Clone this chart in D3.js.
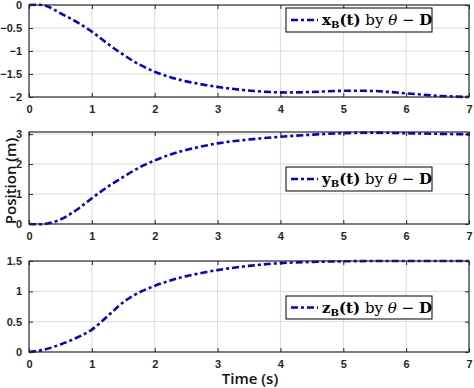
<!DOCTYPE html>
<html>
<head>
<meta charset="utf-8">
<script src="https://cdn.jsdelivr.net/npm/d3@7"></script>
<style>
  body { margin: 0; background: #fff; }
  .tick text { font-family: "Liberation Sans", Arial, sans-serif; font-weight: bold; font-size: 11px; fill: #262626; }
  .lbl { font-family: "Open Sans", sans-serif; font-weight: 600; fill: #111; }
  .leg { font-family: "DejaVu Serif", "Liberation Serif", serif; font-size: 15px; fill: #000; }
</style>
</head>
<body>
<div id="chart"></div>
<script>
// time samples (s)
const time = [0, 0.25, 0.5, 0.75, 1, 1.25, 1.5, 1.75, 2, 2.25, 2.5, 3, 3.5, 4, 4.5, 5, 5.5, 6, 6.5, 7];
const xB = [0, -0.01, -0.18, -0.36, -0.58, -0.84, -1.08, -1.29, -1.45, -1.57, -1.66, -1.78, -1.86, -1.9, -1.89, -1.865, -1.87, -1.92, -1.975, -2.0];
const yB = [0, 0, 0.15, 0.46, 0.86, 1.24, 1.57, 1.88, 2.12, 2.32, 2.47, 2.69, 2.82, 2.91, 2.98, 3.03, 3.05, 3.03, 3.01, 2.99];
const zB = [0, 0.04, 0.125, 0.23, 0.37, 0.59, 0.82, 0.98, 1.09, 1.18, 1.25, 1.35, 1.42, 1.465, 1.485, 1.495, 1.5, 1.5, 1.5, 1.5];

const xTicks = [0, 1, 2, 3, 4, 5, 6, 7];
const yTicks1 = [-2, -1.5, -1, -0.5, 0];
const yTicks2 = [0, 1, 2, 3];
const yTicks3 = [0, 0.5, 1, 1.5];
const legendNames = ["x", "y", "z"];

const width = 474, height = 388;
const left = 29, right = 469;
const blue = "#0000e0";

const svg = d3.select("#chart")
    .append("svg")
    .attr("width", width)
    .attr("height", height);

const x = d3.scaleLinear().domain([0, 7]).range([left, right]);

const panels = [
    { values: xB, domain: [-2, 0], range: [97, 5], ticks: yTicks1, legY: 8, legH: 24 },
    { values: yB, domain: [0, 3.07], range: [224, 132], ticks: yTicks2, legY: 167, legH: 24 },
    { values: zB, domain: [0, 1.5], range: [352, 261], ticks: yTicks3, legY: 296, legH: 23 }
];

panels.forEach((p, i) => {
    const y = d3.scaleLinear().domain(p.domain).range(p.range);
    const top = p.range[1], bottom = p.range[0];
    const g = svg.append("g");

    // grid
    g.append("g")
        .selectAll("line.gx")
        .data(xTicks.slice(1, -1))
        .enter().append("line")
        .attr("x1", d => x(d)).attr("x2", d => x(d))
        .attr("y1", top).attr("y2", bottom)
        .attr("stroke", "#dcdcdc").attr("stroke-width", 1);
    g.append("g")
        .selectAll("line.gy")
        .data(p.ticks.filter(t => y(t) > top + 1 && y(t) < bottom - 1))
        .enter().append("line")
        .attr("x1", left).attr("x2", right)
        .attr("y1", d => y(d)).attr("y2", d => y(d))
        .attr("stroke", "#dcdcdc").attr("stroke-width", 1);

    // axes (ticks inward)
    const fmt = d3.format("");
    g.append("g")
        .attr("transform", "translate(0," + bottom + ")")
        .call(d3.axisBottom(x).tickValues(xTicks).tickSizeInner(-4).tickSizeOuter(0).tickPadding(8).tickFormat(fmt))
        .call(a => a.select(".domain").remove());
    g.append("g")
        .attr("transform", "translate(0," + top + ")")
        .call(d3.axisTop(x).tickValues(xTicks).tickSizeInner(-4).tickSizeOuter(0).tickFormat(""))
        .call(a => a.select(".domain").remove());
    g.append("g")
        .attr("transform", "translate(" + left + ",0)")
        .call(d3.axisLeft(y).tickValues(p.ticks).tickSizeInner(-4).tickSizeOuter(0).tickPadding(7).tickFormat(fmt))
        .call(a => a.select(".domain").remove());
    g.append("g")
        .attr("transform", "translate(" + right + ",0)")
        .call(d3.axisRight(y).tickValues(p.ticks).tickSizeInner(-4).tickSizeOuter(0).tickFormat(""))
        .call(a => a.select(".domain").remove());
    g.selectAll(".tick line").attr("stroke", "#262626");

    // line
    const line = d3.line()
        .x((d, j) => x(time[j]))
        .y(d => y(d))
        .curve(d3.curveCatmullRom);
    g.append("path")
        .datum(p.values)
        .attr("fill", "none")
        .attr("stroke", blue)
        .attr("stroke-width", 2.6)
        .attr("stroke-dasharray", "7,3,3,3")
        .attr("d", line);

    // box
    g.append("rect")
        .attr("x", left).attr("y", top)
        .attr("width", right - left).attr("height", bottom - top)
        .attr("fill", "none").attr("stroke", "#262626").attr("stroke-width", 1.2);

    // legend
    const lg = g.append("g").attr("transform", "translate(286," + p.legY + ")");
    lg.append("rect")
        .attr("width", 146).attr("height", p.legH)
        .attr("fill", "#fff").attr("stroke", "#000").attr("stroke-width", 1);
    lg.append("line")
        .attr("x1", 5).attr("x2", 32)
        .attr("y1", p.legH / 2).attr("y2", p.legH / 2)
        .attr("stroke", blue).attr("stroke-width", 2.6)
        .attr("stroke-dasharray", "7,3,3,3");
    const t = lg.append("text").attr("class", "leg")
        .attr("x", 36).attr("y", p.legH / 2 + 5);
    t.append("tspan").attr("font-weight", "bold").text(legendNames[i]);
    t.append("tspan").attr("font-weight", "bold").attr("font-size", "10px").attr("dy", 3).text("B");
    t.append("tspan").attr("font-weight", "bold").attr("dy", -3).text("(t)");
    t.append("tspan").text(" by ");
    t.append("tspan").attr("font-style", "italic").text("θ");
    t.append("tspan").text(" − ");
    t.append("tspan").attr("font-weight", "bold").text("D");
});

// axis labels
svg.append("text")
    .attr("class", "lbl")
    .attr("font-size", "15px")
    .attr("text-anchor", "middle")
    .attr("transform", "translate(16,181) rotate(-90)")
    .text("Position (m)");
svg.append("text")
    .attr("class", "lbl")
    .attr("font-size", "15px")
    .attr("text-anchor", "middle")
    .attr("x", 250).attr("y", 384)
    .text("Time (s)");
</script>
</body>
</html>
